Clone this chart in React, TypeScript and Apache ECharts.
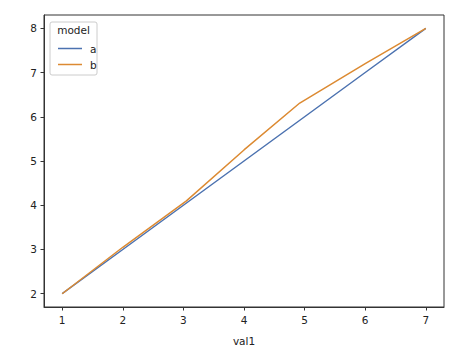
import React, { useEffect, useRef } from "react";
import * as echarts from "echarts";

const seriesNames = ["a", "b"];
const aX = [1, 2, 3, 4, 5, 6, 7];
const aY = [2, 3, 4, 5, 6, 7, 8];
const bX = [1, 2, 3.05, 4, 4.92, 6, 7];
const bY = [2, 3.05, 4.1, 5.25, 6.31, 7.2, 8];
const xTicks = [1, 2, 3, 4, 5, 6, 7];
const yTicks = [2, 3, 4, 5, 6, 7, 8];
const colors = ["#4c72b0", "#dc8a32"];

export default function App() {
  const ref = useRef<HTMLDivElement>(null);
  useEffect(() => {
    const chart = echarts.init(ref.current!, null, { renderer: "svg" });
    const font = "DejaVu Sans";
    const axisCommon = {
      type: "value" as const,
      axisLine: { show: true, onZero: false, lineStyle: { color: "#333", width: 1 } },
      axisTick: { show: true, length: 3.5, lineStyle: { color: "#333", width: 1 } },
      splitLine: { show: false },
      axisLabel: { color: "#222", fontSize: 10.5, fontFamily: font, margin: 7 },
    };
    chart.setOption({
      animation: false,
      backgroundColor: "#fff",
      grid: {
        left: 44,
        right: 30,
        top: 15,
        bottom: 39,
        show: true,
        borderColor: "#333",
        borderWidth: 1,
        backgroundColor: "transparent",
      },
      xAxis: {
        ...axisCommon,
        min: 0.7,
        max: 7.3,
        name: "val1",
        nameLocation: "middle",
        nameGap: 28,
        nameTextStyle: { color: "#222", fontSize: 10.5, fontFamily: font },
        axisTick: { ...axisCommon.axisTick, customValues: xTicks },
        axisLabel: { ...axisCommon.axisLabel, customValues: xTicks },
      },
      yAxis: {
        ...axisCommon,
        min: 1.7,
        max: 8.3,
        axisTick: { ...axisCommon.axisTick, customValues: yTicks },
        axisLabel: { ...axisCommon.axisLabel, customValues: yTicks },
      },
      legend: {
        orient: "vertical",
        left: 53,
        top: 38,
        icon: "rect",
        itemWidth: 24,
        itemHeight: 1.5,
        itemGap: 5,
        textStyle: { color: "#222", fontSize: 10.5, fontFamily: font, padding: [0, 0, 0, 3] },
        data: seriesNames,
      },
      graphic: [
        {
          type: "rect",
          z: 0,
          shape: { x: 50, y: 22, width: 47, height: 53, r: 2 },
          style: { fill: "rgba(255,255,255,0.8)", stroke: "#ccc", lineWidth: 1 },
        },
        {
          type: "text",
          z: 1,
          x: 73.5,
          y: 30,
          style: {
            text: "model",
            fill: "#222",
            fontSize: 10.5,
            fontFamily: font,
            align: "center",
            verticalAlign: "middle",
          },
        },
      ],
      series: [
        {
          name: seriesNames[0],
          type: "line",
          symbol: "none",
          lineStyle: { width: 1.5, color: colors[0] },
          itemStyle: { color: colors[0] },
          data: aX.map((x, i) => [x, aY[i]]),
        },
        {
          name: seriesNames[1],
          type: "line",
          symbol: "none",
          lineStyle: { width: 1.5, color: colors[1] },
          itemStyle: { color: colors[1] },
          data: bX.map((x, i) => [x, bY[i]]),
        },
      ],
    });
    return () => chart.dispose();
  }, []);
  return <div ref={ref} style={{ width: 474, height: 351, position: "absolute", left: 0, top: 0 }} />;
}
